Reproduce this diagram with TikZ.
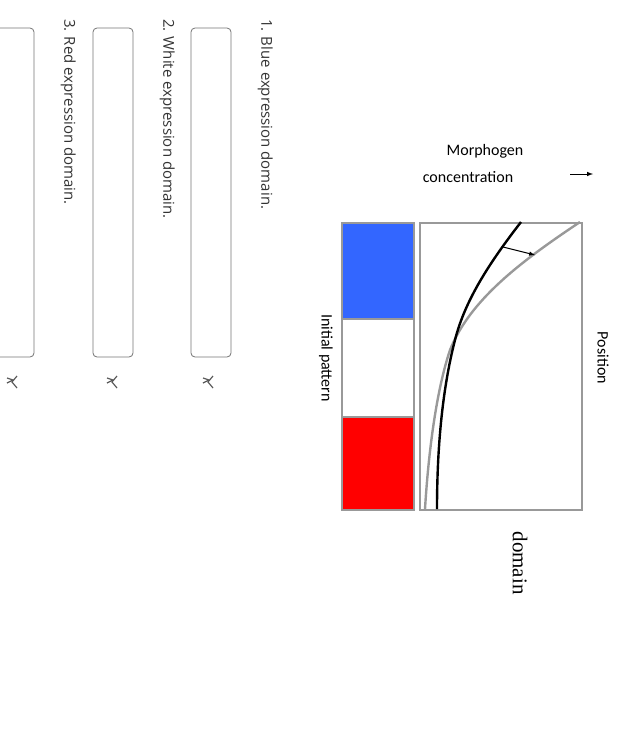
\documentclass[tikz,border=0pt]{standalone}
\usepackage{fontspec}
\setmainfont{Carlito}
\newfontfamily\uifont{Open Sans}
\newfontfamily\serifx{Liberation Serif}
\begin{document}
\begin{tikzpicture}[x=1pt,y=-1pt,
  frame/.style={draw=black!40,line width=1.6pt},
  ansbox/.style={draw=black!55,line width=0.8pt,rounded corners=4pt},
  qtext/.style={font=\uifont\fontsize{15}{18}\selectfont,text=black!80,rotate=-90,anchor=north west,inner sep=0pt},
  lab/.style={font=\fontsize{16}{19}\selectfont,inner sep=0pt},
  icon/.style={draw=black!65,line width=1.2pt}]
\useasboundingbox (0,0) rectangle (627,756);
% plot
\node[frame,minimum width=162pt,minimum height=287pt,inner sep=0pt,anchor=north west] (plot) at (419,222) {};
\draw[black!40,line width=2.4pt] (580,222) .. controls (520,262) and (470,300) .. (450,350) .. controls (435,395) and (428,460) .. (425,509);
\draw[black,line width=2.4pt] (521,222) .. controls (490,262) and (465,300) .. (455,340) .. controls (442,390) and (437,450) .. (437,509);
\coordinate (a1) at (503,247); \coordinate (a2) at (535,255);
\draw[-latex,line width=1pt] (a1) -- (a2);
% pattern
\node[frame,fill={rgb,255:red,51;green,102;blue,255},minimum width=72pt,minimum height=96pt,inner sep=0pt,anchor=north west] (blue) at (341,222) {};
\node[frame,fill=white,minimum width=72pt,minimum height=98pt,inner sep=0pt,anchor=north west] (white) at (341,318) {};
\node[frame,fill=red,minimum width=72pt,minimum height=93pt,inner sep=0pt,anchor=north west] (red) at (341,416) {};
% labels
\node[lab] (m1) at (485,151) {Morphogen};
\node[lab] (m2) at (468,177) {concentration};
\coordinate (b1) at (570,174); \coordinate (b2) at (593,174);
\draw[-latex,line width=1pt] (b1) -- (b2);
\node[lab,rotate=-90] (pos) at (603,358) {Position};
\node[lab,rotate=-90] (ip) at (326,358) {Initial pattern};
\node[font=\serifx\fontsize{21}{24}\selectfont,rotate=-90,inner sep=0pt] (dom) at (520,563) {domain};
% questions
\node[qtext] (q1) at (273,19) {1. Blue expression domain.};
\node[qtext] (q2) at (175,19) {2. White expression domain.};
\node[qtext] (q3) at (76,19) {3. Red expression domain.};
\draw[ansbox] (191,28) rectangle (231,357);
\draw[ansbox] (93,28) rectangle (133,357);
\draw[ansbox] (-10,28) rectangle (34,357);
\foreach \x in {208,112,12}{
  \draw[icon] (\x+5,376) -- (\x,382) -- (\x+5,388);
  \draw[icon] (\x-5,378) -- (\x+1,380) -- (\x-5,383);
}
\end{tikzpicture}
\end{document}
